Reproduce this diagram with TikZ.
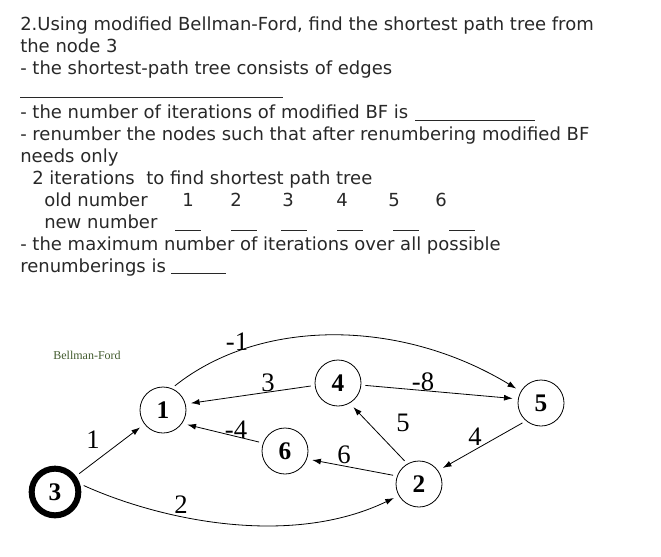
\documentclass[tikz,border=0pt]{standalone}
\usepackage{fontspec}
\setmainfont{DejaVu Sans}
\newfontfamily\tms{Liberation Serif}
\usetikzlibrary{arrows.meta}
\definecolor{txt}{RGB}{40,40,40}
\definecolor{bfgreen}{RGB}{65,90,45}
\tikzset{
  line/.style={anchor=base west, inner sep=0pt, font=\fontsize{13.5}{15}\selectfont, text=txt},
  vtx/.style={circle, draw, line width=0.6pt, minimum size=34.5pt, inner sep=0pt, font=\tms\bfseries\fontsize{19}{19}\selectfont},
  src/.style={circle, draw, line width=4.5pt, minimum size=35pt, inner sep=0pt, font=\tms\bfseries\fontsize{19}{19}\selectfont},
  edge/.style={-{Latex[length=6.5pt,width=4.5pt]}, line width=0.6pt, shorten >=4pt, shorten <=3pt},
  wlab/.style={font=\tms\fontsize{20}{20}\selectfont, inner sep=0pt},
  blank/.style={line width=0.7pt, draw=txt}
}
\begin{document}
\begin{tikzpicture}[x=0.75pt,y=-0.75pt]
\useasboundingbox (0,0) rectangle (661,557);
% text
\node[line] (t1) at (20,30) {2.Using modified Bellman-Ford, find the shortest path tree from};
\node[line] (t2) at (20,52) {the node 3};
\node[line] (t3) at (20,74) {- the shortest-path tree consists of edges};
\draw[blank] (20,97) coordinate (u1a) -- (283,97) coordinate (u1b);
\node[line] (t5) at (20,118) {- the number of iterations of modified BF is};
\draw[blank] (415,120) coordinate (u2a) -- (535,120) coordinate (u2b);
\node[line] (t6) at (20,140) {- renumber the nodes such that after renumbering modified BF};
\node[line] (t7) at (20,162) {needs only};
\node[line] (t8) at (32,184) {2 iterations\ \ to find shortest path tree};
\node[line] (t9) at (44,206) {old number};
\foreach \x/\n in {188/1,236/2,288/3,342/4,394/5,441/6}
  \node[line, anchor=base] (o\n) at (\x,206) {\n};
\node[line] (t10) at (44,228) {new number};
\foreach \a/\n in {175/1,231/2,281/3,337/4,393/5,449/6}
  \draw[blank] (\a,230) coordinate (na\n) -- ++(26,0) coordinate (nb\n);
\node[line] (t11) at (20,250) {- the maximum number of iterations over all possible};
\node[line] (t12) at (20,272) {renumberings is};
\draw[blank] (171,273) coordinate (u3a) -- (226,273) coordinate (u3b);
% graph
\node[font=\tms\fontsize{9}{9}\selectfont, text=bfgreen] (bf) at (87,355) {Bellman-Ford};
\node[vtx] (n1) at (163,410) {1};
\node[src] (n3) at (55,492) {3};
\node[vtx] (n6) at (285,451) {6};
\node[vtx] (n4) at (338,383) {4};
\node[vtx] (n5) at (541,403) {5};
\node[vtx] (n2) at (419,484) {2};
\draw[edge] (n3) -- (n1);
\draw[edge] (n1.68) .. controls (260,318) and (400,318) .. (n5.150);
\draw[edge] (n4.186) -- (n1.15);
\draw[edge] (n6.160) -- (n1.-35);
\draw[edge] (n4.-5) -- (n5.170);
\draw[edge] (n2.120) -- (n4.-60);
\draw[edge] (n5.-130) -- (n2.35);
\draw[edge] (n2.160) -- (n6.-20);
\draw[edge] (n3.18) .. controls (160,520) and (290,548) .. (n2.210);
\node[wlab] (l1) at (93,440) {1};
\node[wlab] (lm1) at (237,342) {-1};
\node[wlab] (l3) at (268,383) {3};
\node[wlab] (lm4) at (236,430) {-4};
\node[wlab] (lm8) at (423,382) {-8};
\node[wlab] (l5) at (403,423) {5};
\node[wlab] (l4) at (475,437) {4};
\node[wlab] (l6) at (344,455) {6};
\node[wlab] (l2) at (181,505) {2};
\end{tikzpicture}
\end{document}
